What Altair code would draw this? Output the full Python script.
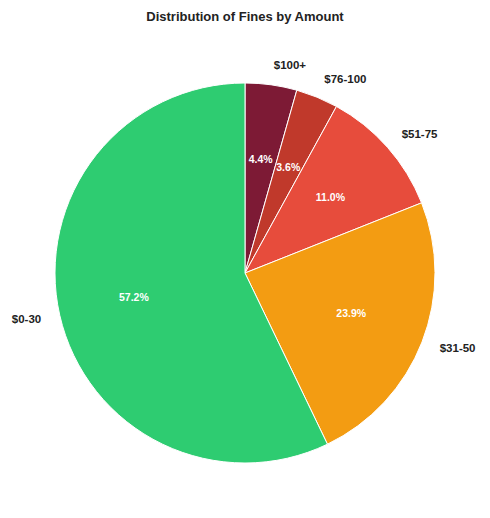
import math
import altair as alt
import pandas as pd

categories = ["$100+", "$76-100", "$51-75", "$31-50", "$0-30"]
shares = [4.4, 3.6, 11.0, 23.9, 57.2]
colors = ["#7d1a35", "#c0392b", "#e74c3c", "#f39c12", "#2ecc71"]

total = sum(shares)
df = pd.DataFrame({"cat": categories, "share": shares, "idx": list(range(len(categories)))})
df["pct"] = [f"{v:.1f}%" for v in shares]

R = 190
base = alt.Chart(df)

pie = base.mark_arc(stroke="white", strokeWidth=1, radius=R).encode(
    theta=alt.Theta("share:Q", stack=True),
    order=alt.Order("idx:Q"),
    color=alt.Color("cat:N", scale=alt.Scale(domain=categories, range=colors), legend=None),
)

mid = base.transform_window(
    cum="sum(share)", sort=[alt.SortField("idx")], frame=[None, 0]
).transform_calculate(mid="datum.cum - datum.share / 2")

theta_mid = alt.Theta("mid:Q", stack=None, scale=alt.Scale(domain=[0, total], range=[0, 2 * math.pi]))

pct = mid.mark_text(font="Liberation Sans", fontWeight="bold", fontSize=10.5, color="white",
                    align="center", baseline="middle", radius=R * 0.6).encode(
    theta=theta_mid, text="pct:N")

right = mid.transform_filter(f"datum.mid < {total/2}").mark_text(
    font="Liberation Sans", fontWeight="bold", fontSize=11.5, color="#222222",
    align="left", baseline="middle", radius=R * 1.1).encode(theta=theta_mid, text="cat:N")

left = mid.transform_filter(f"datum.mid >= {total/2}").mark_text(
    font="Liberation Sans", fontWeight="bold", fontSize=11.5, color="#222222",
    align="right", baseline="middle", radius=R * 1.1).encode(theta=theta_mid, text="cat:N")

chart = alt.layer(pie, pct, right, left).resolve_scale(theta="independent").properties(
    width=474, height=462,
    autosize=alt.AutoSizeParams(type="none"),
    padding={"top": 34, "left": 0, "right": 0, "bottom": 0},
    title=alt.TitleParams("Distribution of Fines by Amount", font="Liberation Sans",
                          fontSize=13, fontWeight="bold", color="#222222", anchor="middle", offset=18),
).configure_view(stroke=None)

chart.save("out.html", embed_options={"renderer": "svg", "actions": False})
